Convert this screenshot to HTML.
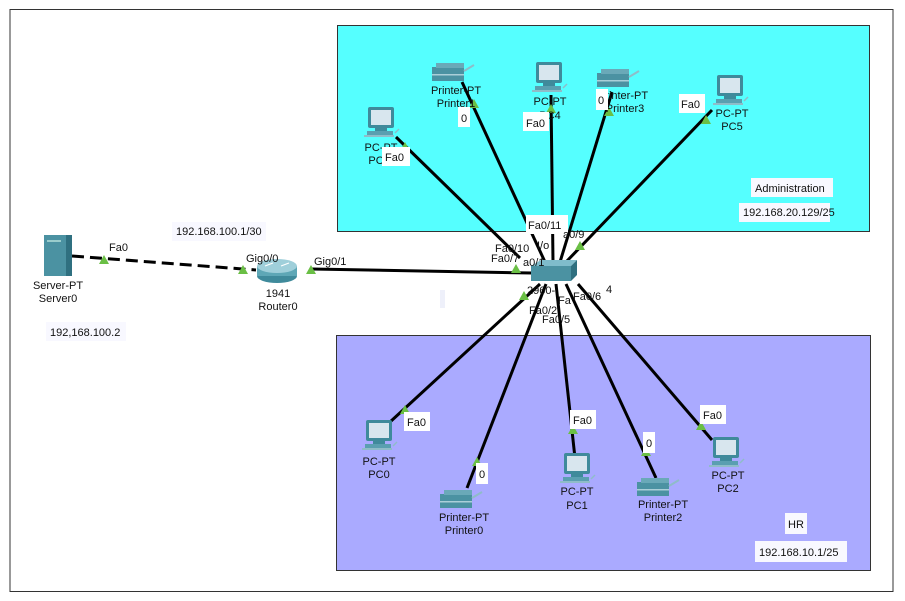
<!DOCTYPE html>
<html><head><meta charset="utf-8"><style>
html,body{margin:0;padding:0;background:#fff;width:905px;height:601px;overflow:hidden}
text{font-family:"Liberation Sans",sans-serif;font-size:11px;fill:#111}
</style></head><body>
<svg width="905" height="601" viewBox="0 0 905 601" xmlns="http://www.w3.org/2000/svg">
<defs>
<g id="pc">
 <rect x="4" y="0" width="26" height="21" rx="2" fill="#3f8a9b"/>
 <rect x="7" y="3" width="20" height="15" fill="#d8e6ee"/>
 <rect x="11" y="21" width="12" height="3" fill="#3f8a9b"/>
 <rect x="3" y="24" width="26" height="4" fill="#5a9fb0"/>
 <rect x="0" y="28" width="30" height="2" fill="#8fbcc8"/>
 <path d="M31 26 l4 -4" stroke="#8fbcc8" stroke-width="1.5"/>
</g>
<g id="pr">
 <rect x="0" y="4" width="32" height="14" fill="#4b92a2"/>
 <rect x="4" y="0" width="28" height="5" fill="#6aa9b8"/>
 <rect x="0" y="11" width="32" height="1.5" fill="#aacfd8"/>
 <path d="M32 8 l10 -6" stroke="#8fbcc8" stroke-width="2"/>
</g>
<g id="tri"><path d="M-5 4 L0 -5 L5 4 Z" fill="#6abf45"/></g>
</defs>
<rect x="10" y="9.5" width="883" height="582" fill="#fff" stroke="#333" stroke-width="1"/>
<rect x="337.5" y="25.5" width="532" height="206" fill="#55ffff" stroke="#333"/>
<rect x="336.5" y="335.5" width="534" height="235" fill="#aaaaff" stroke="#333"/>
<rect x="440" y="290" width="5" height="18" fill="#eef0fa"/>

<g stroke="#000" stroke-width="3">
 <line x1="396" y1="137" x2="520" y2="258"/>
 <line x1="462" y1="82" x2="545" y2="262"/>
 <line x1="551" y1="95" x2="553" y2="262"/>
 <line x1="612" y1="92" x2="560" y2="262"/>
 <line x1="712" y1="110" x2="566" y2="262"/>
 <line x1="390" y1="422" x2="540" y2="284"/>
 <line x1="467" y1="488" x2="546" y2="284"/>
 <line x1="575" y1="458" x2="556" y2="284"/>
 <line x1="656" y1="478" x2="566" y2="284"/>
 <line x1="712" y1="440" x2="578" y2="284"/>
 <line x1="312" y1="269" x2="532" y2="273"/>
 <line x1="72" y1="256" x2="256" y2="270" stroke-dasharray="12,6"/>
</g>

<use href="#tri" x="104" y="260"/>
<use href="#tri" x="243" y="270"/>
<use href="#tri" x="311" y="270"/>
<use href="#tri" x="516" y="269"/>
<use href="#tri" x="405" y="147"/>
<use href="#tri" x="474" y="104"/>
<use href="#tri" x="551" y="109"/>
<use href="#tri" x="609" y="112"/>
<use href="#tri" x="706" y="120"/>
<use href="#tri" x="580" y="246"/>
<use href="#tri" x="524" y="296"/>
<use href="#tri" x="405" y="410"/>
<use href="#tri" x="477" y="462"/>
<use href="#tri" x="573" y="430"/>
<use href="#tri" x="646" y="452"/>
<use href="#tri" x="701" y="426"/>

<rect x="44" y="235" width="22" height="41" fill="#4b92a2"/>
<rect x="66" y="235" width="6" height="41" fill="#2f7080"/>
<rect x="47" y="240" width="14" height="2" fill="#9cc"/>
<ellipse cx="277" cy="276" rx="20" ry="7" fill="#3f8a9b"/>
<rect x="257" y="266" width="40" height="10" fill="#5ea7b6"/>
<ellipse cx="277" cy="266" rx="20" ry="7" fill="#9fcfda"/>
<path d="M265 266 l8 -3 M281 266 l8 -3" stroke="#fff" stroke-width="1.2"/>
<path d="M531 266 L571 266 L577 260 L541 260 Z" fill="#7fbccb"/>
<rect x="531" y="266" width="40" height="15" fill="#4b92a2"/>
<path d="M571 266 L577 260 L577 275 L571 281 Z" fill="#2f7080"/>

<use href="#pc" x="364" y="107"/>
<use href="#pc" x="532" y="62"/>
<use href="#pc" x="713" y="75"/>
<use href="#pc" x="362" y="420"/>
<use href="#pc" x="560" y="453"/>
<use href="#pc" x="709" y="437"/>
<use href="#pr" x="432" y="63"/>
<use href="#pr" x="597" y="69"/>
<use href="#pr" x="440" y="490"/>
<use href="#pr" x="637" y="478"/>

<g text-anchor="middle">
<text x="381" y="151">PC-PT</text><text x="376" y="164">PC</text>
<text x="456" y="94">Printer-PT</text><text x="456" y="107">Printer1</text>
<text x="550" y="105">PC-PT</text><text x="550" y="119">PC4</text>
<text x="623" y="99">Printer-PT</text><text x="625" y="112">Printer3</text>
<text x="732" y="117">PC-PT</text><text x="732" y="130">PC5</text>
<text x="58" y="289">Server-PT</text><text x="58" y="302">Server0</text>
<text x="278" y="297">1941</text><text x="278" y="310">Router0</text>
<text x="379" y="465">PC-PT</text><text x="379" y="478">PC0</text>
<text x="464" y="521">Printer-PT</text><text x="464" y="534">Printer0</text>
<text x="577" y="495">PC-PT</text><text x="577" y="509">PC1</text>
<text x="663" y="508">Printer-PT</text><text x="663" y="521">Printer2</text>
<text x="728" y="479">PC-PT</text><text x="728" y="492">PC2</text>
</g>

<g fill="#fff">
<rect x="382" y="147" width="28" height="19"/>
<rect x="458" y="107" width="12" height="20"/>
<rect x="523" y="112" width="26" height="19"/>
<rect x="596" y="89" width="12" height="21"/>
<rect x="679" y="94" width="26" height="19"/>
<rect x="751" y="178" width="82" height="19" fill="#f8f8ff"/>
<rect x="739" y="203" width="91" height="19" fill="#f8f8ff"/>
<rect x="172" y="222" width="94" height="19" fill="#f8f8ff"/>
<rect x="46" y="322" width="80" height="19" fill="#f8f8ff"/>
<rect x="526" y="215" width="42" height="19"/>
<rect x="404" y="412" width="26" height="19"/>
<rect x="476" y="463" width="12" height="21"/>
<rect x="570" y="410" width="26" height="19"/>
<rect x="643" y="432" width="12" height="21"/>
<rect x="700" y="405" width="26" height="19"/>
<rect x="785" y="513" width="22" height="21" fill="#f8f8ff"/>
<rect x="755" y="541" width="92" height="21" fill="#f8f8ff"/>
</g>

<text x="385" y="161">Fa0</text>
<text x="461" y="122">0</text>
<text x="526" y="127">Fa0</text>
<text x="598" y="104">0</text>
<text x="681" y="108">Fa0</text>
<text x="755" y="192">Administration</text>
<text x="743" y="216">192.168.20.129/25</text>
<text x="176" y="235">192.168.100.1/30</text>
<text x="50" y="336">192,168.100.2</text>
<text x="109" y="251">Fa0</text>
<text x="246" y="262">Gig0/0</text>
<text x="314" y="265">Gig0/1</text>
<text x="528" y="229">Fa0/11</text>
<text x="563" y="238">a0/9</text>
<text x="495" y="252">Fa0/10</text>
<text x="537" y="249">I/o</text>
<text x="491" y="262">Fa0/7</text>
<text x="523" y="266">a0/1</text>
<text x="527" y="294">2960-</text>
<text x="558" y="304">Fa</text>
<text x="573" y="300">Fa0/6</text>
<text x="606" y="293">4</text>
<text x="529" y="314">Fa0/2</text>
<text x="542" y="323">Fa0/5</text>
<text x="407" y="426">Fa0</text>
<text x="479" y="478">0</text>
<text x="573" y="424">Fa0</text>
<text x="646" y="447">0</text>
<text x="703" y="419">Fa0</text>
<text x="788" y="528">HR</text>
<text x="759" y="556">192.168.10.1/25</text>
</svg>
</body></html>
